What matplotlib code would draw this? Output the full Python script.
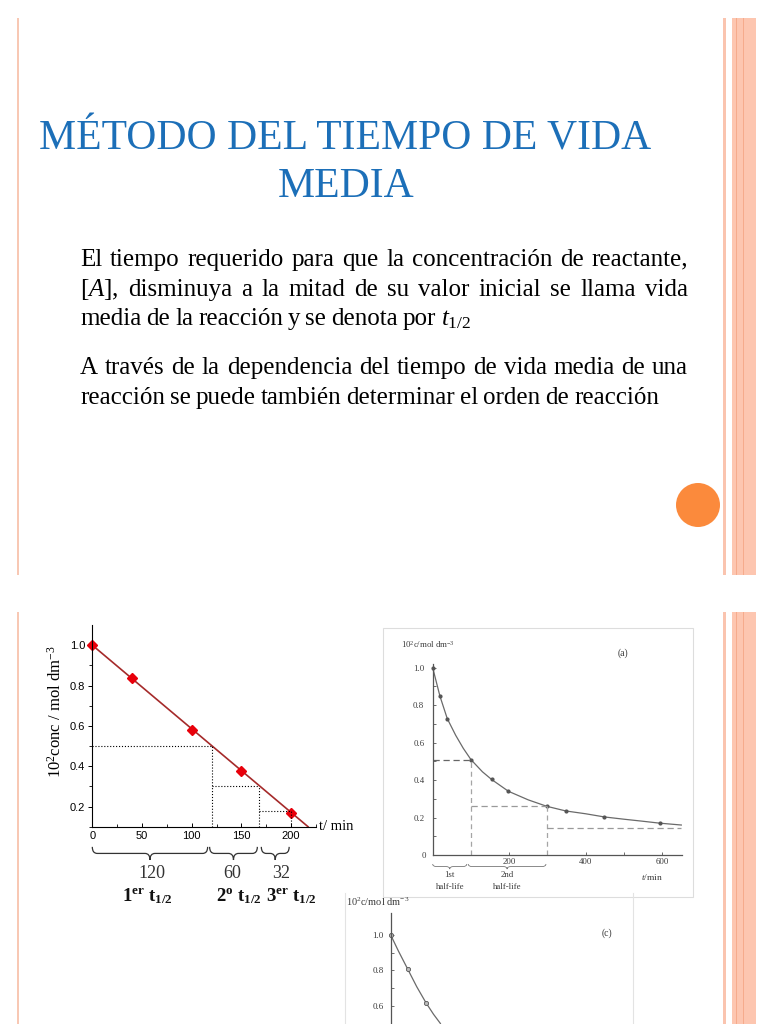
import matplotlib
matplotlib.use("Agg")
import matplotlib.pyplot as plt
from matplotlib.patches import Rectangle, Circle, PathPatch
from matplotlib.path import Path

plt.rcParams["mathtext.fontset"] = "custom"
plt.rcParams["mathtext.rm"] = "Liberation Serif"
plt.rcParams["mathtext.it"] = "Liberation Serif:italic"
plt.rcParams["mathtext.bf"] = "Liberation Serif:bold"
plt.rcParams["font.family"] = ["Liberation Serif", "DejaVu Serif"]

# ---------------- data ----------------
title_lines = ["MÉTODO DEL TIEMPO DE VIDA", "MEDIA"]
body_lines = [
    "El tiempo requerido para que la concentración de reactante,",
    "[$A$], disminuya a la mitad de su valor inicial se llama vida",
    "media de la reacción y se denota por $t_{1/2}$",
    "A través de la dependencia del tiempo de vida media de una",
    "reacción se puede también determinar el orden de reacción",
]
body_justify = [True, True, False, True, False]

# left chart (zero order)
zero_t = [0, 40, 100, 150, 200]
zero_c = [1.0, 0.835, 0.58, 0.375, 0.17]
zero_fit_t = [0, 217]
zero_fit_c = [1.0, 0.1]
zero_half_c = [0.5, 0.3, 0.18]
zero_half_t0 = [0, 120, 168]
zero_half_t1 = [120, 168, 200]
zero_brace_t0 = [0, 118, 170]
zero_brace_t1 = [116, 166, 198]
zero_brace_num = ["120", "60", "32"]
zero_brace_lab = [r"$\mathbf{1^{er}\ t_{1/2}}$", r"$\mathbf{2^{o}\ t_{1/2}}$", r"$\mathbf{3^{er}\ t_{1/2}}$"]
zero_xticks = [0, 50, 100, 150, 200]
zero_yticks = [0.2, 0.4, 0.6, 0.8, 1.0]

# chart (a) (second order)
a_t = [0, 19, 38, 100, 154, 198, 298, 348, 449, 593]
a_c = [1.0, 0.848, 0.729, 0.51, 0.404, 0.341, 0.261, 0.236, 0.204, 0.171]
a_curve_t = [0, 10, 19, 38, 60, 80, 100, 130, 154, 198, 250, 298, 348, 400, 449, 500, 550, 593, 650]
a_curve_c = [1.0, 0.92, 0.848, 0.729, 0.64, 0.57, 0.51, 0.445, 0.404, 0.341, 0.295, 0.261,
             0.236, 0.221, 0.204, 0.192, 0.181, 0.171, 0.161]
a_half_c = [0.51, 0.262, 0.145]
a_half_t0 = [0, 100, 298]
a_half_t1 = [100, 298, 650]
a_brace_t0 = [0, 93]
a_brace_t1 = [89, 296]
a_brace_lab1 = ["1st", "2nd"]
a_brace_lab2 = ["half-life", "half-life"]
a_xticks = [200, 400, 600]
a_yticks = [0.2, 0.4, 0.6, 0.8, 1.0]

# chart (c)
c_t = [0, 45, 92]
c_c = [1.0, 0.805, 0.618]
c_curve_t = [0, 20, 45, 68, 92, 112, 130]
c_curve_c = [1.0, 0.91, 0.805, 0.708, 0.618, 0.552, 0.50]
c_yticks = [0.6, 0.8, 1.0]

W, H = 768, 1024
fig = plt.figure(figsize=(7.68, 10.24), dpi=100)
fig.patch.set_facecolor("white")
bg = fig.add_axes([0, 0, 1, 1])
bg.set_xlim(0, W)
bg.set_ylim(H, 0)
bg.axis("off")


def px_axes(left, top, right, bottom):
    ax = fig.add_axes([left / W, 1 - bottom / H, (right - left) / W, (bottom - top) / H])
    ax.set_facecolor("none")
    return ax


# ---------------- slide decoration ----------------
for y0, y1 in [(18, 575), (612, 1024)]:
    bg.add_patch(Rectangle((16.8, y0), 2.2, y1 - y0, color="#F8C8B4", lw=0))
    bg.add_patch(Rectangle((723.3, y0), 2.8, y1 - y0, color="#FAC4AF", lw=0))
    bg.add_patch(Rectangle((731.7, y0), 24, y1 - y0, color="#FDC6B0", lw=0))
    bg.add_patch(Rectangle((736, y0), 1.4, y1 - y0, color="#F6AB8C", lw=0))
    bg.add_patch(Rectangle((742.6, y0), 1.2, y1 - y0, color="#F6AB8C", lw=0))
bg.add_patch(Circle((698, 505), 22, color="#FB8A3C", lw=0))

blue = "#1C6FB8"
bg.text(345, 150, title_lines[0], ha="center", va="baseline", fontsize=30, color=blue)
bg.text(346, 197, title_lines[1], ha="center", va="baseline", fontsize=30, color=blue)

renderer = fig.canvas.get_renderer()
fs_body = 18


def tw(s):
    t = bg.text(0, 0, s, fontsize=fs_body)
    w = t.get_window_extent(renderer).width
    t.remove()
    return w


space_w = (tw("a a") - tw("aa")) * 0.8
x_left, x_right = 80, 688
baselines = [266, 296, 325, 374, 404]
for line, just, yb in zip(body_lines, body_justify, baselines):
    words = line.split(" ")
    widths = [tw(w) for w in words]
    if just:
        gap = (x_right - x_left - sum(widths)) / (len(words) - 1)
    else:
        gap = space_w
    x = x_left
    for w, wd in zip(words, widths):
        bg.text(x, yb, w, fontsize=fs_body, ha="left", va="baseline", color="black")
        x += wd + gap


def brace(ax, x0, x1, ytop, h, q, color, lw):
    xm = (x0 + x1) / 2
    ymid = ytop - h / 2
    yb = ytop - h
    verts = [(x0, ytop), (x0, ymid), (x0 + q, ymid), (xm - q, ymid), (xm, ymid), (xm, yb),
             (xm, ymid), (xm + q, ymid), (x1 - q, ymid), (x1, ymid), (x1, ytop)]
    codes = [Path.MOVETO, Path.CURVE3, Path.CURVE3, Path.LINETO, Path.CURVE3, Path.CURVE3,
             Path.CURVE3, Path.CURVE3, Path.LINETO, Path.CURVE3, Path.CURVE3]
    ax.add_patch(PathPatch(Path(verts, codes), fill=False, ec=color, lw=lw, clip_on=False))


# ---------------- left chart ----------------
ax1 = px_axes(92.3, 625, 316, 826.7)
ax1.set_xlim(0, 224)
ax1.set_ylim(0.1, 1.1)
for s in ["top", "right"]:
    ax1.spines[s].set_visible(False)
for s in ["left", "bottom"]:
    ax1.spines[s].set_linewidth(0.8)
ax1.set_xticks(zero_xticks)
ax1.set_xticks([25, 75, 125, 175, 225], minor=True)
ax1.set_yticks(zero_yticks)
ax1.set_yticks([0.1, 0.3, 0.5, 0.7, 0.9], minor=True)
ax1.tick_params(axis="x", which="both", direction="in", pad=3)
ax1.tick_params(axis="y", which="both", direction="out", pad=2)
ax1.tick_params(which="major", length=3, width=0.7, labelsize=8)
ax1.tick_params(which="minor", length=2, width=0.6)
for lab in ax1.get_xticklabels() + ax1.get_yticklabels():
    lab.set_family("Liberation Sans")
ax1.plot(zero_fit_t, zero_fit_c, color="#A52A2A", lw=1.2, clip_on=False)
ax1.plot(zero_t, zero_c, ls="none", marker="D", ms=5, color="#E8000B", mec="#E8000B", clip_on=False)
for c, t0, t1 in zip(zero_half_c, zero_half_t0, zero_half_t1):
    ax1.plot([t0, t1], [c, c], color="black", ls=":", lw=0.8)
    ax1.plot([t1, t1], [0.1, c], color="black", ls=":", lw=0.8)
num_x = [60, 141, 190]     # label anchors (t units) below the braces
lab_x = [55, 147, 200]
for t0, t1, num, lab, nx, lx in zip(zero_brace_t0, zero_brace_t1, zero_brace_num, zero_brace_lab,
                                     num_x, lab_x):
    brace(ax1, t0, t1, 0.0, 0.065, 5, "#333333", 0.9)
    ax1.text(nx, -0.133, num, ha="center", va="center", fontsize=13, color="#333333")
    ax1.text(lx, -0.245, lab, ha="center", va="center", fontsize=13.5, color="#111111")
ax1.text(228, 0.1, "t/ min", ha="left", va="center", fontsize=10.5)
ax1.set_ylabel(r"10$^{2}$conc / mol dm$^{-3}$", fontsize=12)
ax1.yaxis.set_label_coords(-0.125, 0.569)

# ---------------- chart (a) ----------------
bg.add_patch(Rectangle((383, 628), 310, 269, fill=False, ec="#DDDDDD", lw=0.8))
grey = "#3A3A3A"
ax2 = px_axes(432.7, 664, 681.7, 855.2)
ax2.set_xlim(0, 651)
ax2.set_ylim(0, 1.02)
for s in ["top", "right"]:
    ax2.spines[s].set_visible(False)
for s in ["left", "bottom"]:
    ax2.spines[s].set_linewidth(0.9)
    ax2.spines[s].set_color("#555555")
ax2.set_xticks(a_xticks)
ax2.set_xticks([100, 300, 500], minor=True)
ax2.set_yticks(a_yticks)
ax2.set_yticks([0.1, 0.3, 0.5, 0.7, 0.9], minor=True)
ax2.tick_params(which="both", direction="in", length=2.5, width=0.6, color="#555555",
                labelsize=6.3, labelcolor=grey)
ax2.tick_params(axis="x", pad=2)
ax2.tick_params(axis="y", pad=6)
ax2.plot(a_curve_t, a_curve_c, color="#6A6A6A", lw=0.9, clip_on=False)
ax2.plot(a_t, a_c, ls="none", marker="o", ms=2, color="#555555", clip_on=False)
for i, (c, t0, t1) in enumerate(zip(a_half_c, a_half_t0, a_half_t1)):
    ax2.plot([t0, t1], [c, c], color="#666666" if i == 0 else "#9A9A9A", ls=(0, (5, 3)), lw=0.9,
             clip_on=False)
    if i < 2:
        ax2.plot([t1, t1], [0, c], color="#A5A5A5", ls=(0, (4, 3)), lw=0.9)
for t0, t1, l1, l2 in zip(a_brace_t0, a_brace_t1, a_brace_lab1, a_brace_lab2):
    brace(ax2, t0, t1, -0.047, 0.027, 10, "#777777", 0.6)
    ax2.text((t0 + t1) / 2, -0.108, l1, ha="center", va="center", fontsize=6.3, color=grey)
    ax2.text((t0 + t1) / 2, -0.172, l2, ha="center", va="center", fontsize=6.3, color=grey)
ax2.text(-24, -0.005, "0", ha="center", va="center", fontsize=6.3, color=grey)
ax2.text(572, -0.118, r"$t$/min", ha="center", va="center", fontsize=6.8, color=grey)
bg.text(428, 645, r"10$^{2}$c/mol dm$^{-3}$", ha="center", va="center", fontsize=6.3, color=grey)
bg.text(623, 653, "(a)", ha="center", va="center", fontsize=7, color=grey)

# ---------------- chart (c) ----------------
bg.plot([345, 345], [893, 1024], color="#E3E3E3", lw=0.8)
bg.plot([633, 633], [893, 1024], color="#E3E3E3", lw=0.8)
ax3 = px_axes(390.7, 913, 630, 1024)
ax3.set_xlim(0, 626)
ax3.set_ylim(0.497, 1.124)
for s in ["top", "right", "bottom"]:
    ax3.spines[s].set_visible(False)
ax3.spines["left"].set_linewidth(0.9)
ax3.spines["left"].set_color("#555555")
ax3.set_xticks([])
ax3.set_yticks(c_yticks)
ax3.set_yticks([0.7, 0.9], minor=True)
ax3.tick_params(which="both", direction="in", length=2.5, width=0.6, color="#555555",
                labelsize=6.5, labelcolor=grey, pad=5)
ax3.plot(c_curve_t, c_curve_c, color="#6A6A6A", lw=0.9)
ax3.plot(c_t, c_c, ls="none", marker="o", ms=3, mfc="#BBBBBB", mec="#555555", mew=0.6, clip_on=False)
bg.text(378, 902, r"10$^{2}$c/mol dm$^{-3}$", ha="center", va="center", fontsize=7.5, color=grey)
bg.text(607, 933, "(c)", ha="center", va="center", fontsize=7, color=grey)

fig.savefig("out.png", dpi=100)
